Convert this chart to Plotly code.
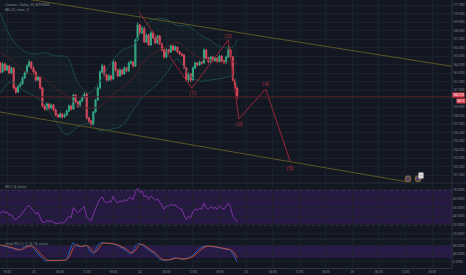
import plotly.graph_objects as go
import pandas as pd

# ---------------- data ----------------
start_time = "2018-01-22 16:30"
opens = [164.17,163.12,164.06,163.35,163.82,163.00,163.59,161.24,160.76,161.47,
 161.71,162.41,163.00,163.82,164.29,163.59,163.12,162.18,162.53,161.24,
 159.12,158.76,159.35,158.88,159.24,158.65,158.06,157.82,158.18,157.82,
 158.06,158.53,159.12,158.76,160.41,159.59,159.12,159.71,160.18,160.53,
 157.71,157.35,157.00,158.41,159.82,161.24,163.12,163.82,162.76,162.18,
 162.65,162.29,164.29,163.35,162.65,163.35,162.88,163.59,163.24,164.18,
 164.29,163.82,166.88,168.65,167.71,168.29,166.65,167.47,166.29,167.71,
 167.12,166.53,167.35,166.41,165.71,164.88,165.71,165.47,166.18,165.71,
 166.06,165.47,165.24,165.12,163.59,162.18,162.88,162.18,163.59,164.18,
 163.94,164.29,164.18,165.71,164.76,164.29,164.88,164.41,164.76,164.29,
 165.00,164.41,164.18,164.88,165.71,164.88,162.18,161.24]
highs = [164.30,164.25,164.20,164.00,163.95,163.75,163.70,161.40,161.60,161.95,
 162.60,163.20,164.00,164.55,164.40,163.75,163.25,162.75,162.65,161.35,
 159.30,159.55,159.45,159.40,159.35,158.80,158.20,158.35,158.30,158.25,
 158.70,159.30,159.25,160.55,160.50,159.70,159.85,160.35,160.75,160.65,
 157.85,157.50,158.55,159.95,161.40,163.30,164.10,163.95,162.90,162.85,
 162.80,164.55,164.40,163.50,163.55,163.45,163.80,163.70,164.35,164.50,
 164.40,167.05,168.95,168.80,168.50,168.40,167.65,167.60,167.90,167.85,
 167.25,167.50,167.45,166.55,165.85,165.90,165.85,166.35,166.30,166.25,
 166.15,165.60,165.35,165.20,163.70,163.05,163.00,163.75,164.35,164.30,
 164.45,164.40,165.90,165.80,164.90,165.05,165.00,164.90,164.85,165.15,
 165.10,164.55,165.05,166.20,165.80,165.00,162.30,161.35]
lows = [162.95,163.00,163.20,163.25,162.85,162.90,161.10,160.55,160.65,161.30,
 161.60,162.30,162.90,163.70,163.45,162.95,162.00,162.05,161.10,158.95,
 158.55,158.60,158.70,158.75,158.50,157.90,157.70,157.70,157.65,157.75,
 157.95,158.45,158.60,158.70,159.40,158.95,159.00,159.60,160.05,157.55,
 157.15,156.75,156.90,158.30,159.70,161.10,162.95,162.60,162.00,162.05,
 162.10,162.20,163.20,162.50,162.55,162.70,162.80,163.10,163.15,164.00,
 163.65,163.70,166.75,167.55,167.60,166.50,166.55,166.15,166.20,167.00,
 166.40,166.45,166.30,165.55,164.70,164.75,165.30,165.35,165.60,165.60,
 165.35,165.10,164.95,163.45,162.00,161.95,161.90,162.10,163.45,163.80,
 163.85,164.00,164.10,164.60,164.15,164.20,164.30,164.30,164.15,164.20,
 164.30,164.05,164.10,164.80,164.75,162.05,161.10,159.95]
closes = [163.12,164.06,163.35,163.82,163.00,163.59,161.24,160.76,161.47,161.71,
 162.41,163.00,163.82,164.29,163.59,163.12,162.18,162.53,161.24,159.12,
 158.76,159.35,158.88,159.24,158.65,158.06,157.82,158.18,157.82,158.06,
 158.53,159.12,158.76,160.41,159.59,159.12,159.71,160.18,160.53,157.71,
 157.35,157.00,158.41,159.82,161.24,163.12,163.82,162.76,162.18,162.65,
 162.29,164.29,163.35,162.65,163.35,162.88,163.59,163.24,164.18,164.29,
 163.82,166.88,168.65,167.71,168.29,166.65,167.47,166.29,167.71,167.12,
 166.53,167.35,166.41,165.71,164.88,165.71,165.47,166.18,165.71,166.06,
 165.47,165.24,165.12,163.59,162.18,162.88,162.18,163.59,164.18,163.94,
 164.29,164.18,165.71,164.76,164.29,164.88,164.41,164.76,164.29,165.00,
 164.41,164.18,164.88,165.71,164.88,162.18,161.24,160.21]

# Bollinger bands (20, close, 2), read at sampled candles
bb_index = [0,5,10,15,20,25,30,35,40,45,50,55,60,65,70,75,80,85,90,95,100,105,107]
bb_upper = [170.06,167.12,165.71,165.24,165.39,165.00,164.88,161.89,160.67,162.03,164.20,165.71,
            166.26,168.41,169.42,169.31,168.60,168.48,167.56,166.81,166.02,166.11,166.88]
bb_basis = [165.35,164.53,163.35,162.76,162.35,161.16,160.31,159.27,158.85,159.12,160.29,161.26,
            162.45,164.38,165.45,166.12,166.61,165.65,164.80,164.49,164.19,164.33,164.12]
bb_lower = [160.65,161.94,161.00,160.29,159.32,157.35,155.74,156.65,157.04,156.21,156.39,156.81,
            158.65,160.35,161.47,162.94,164.62,162.82,162.05,162.18,162.36,162.56,161.35]

rsi = [43,46,44,45,41,42,37,36,39,40,44,48,51,52,49,46,43,44,39,33,
       33,35,34,35,33,32,31,33,32,33,36,40,38,50,46,44,47,49,51,38,
       37,35,42,49,55,60,62,57,55,57,56,63,58,55,58,56,59,57,61,61,
       59,68,72,67,69,62,64,59,63,61,58,60,56,53,48,52,51,54,52,53,
       50,49,48,41,36,40,38,45,48,47,49,48,55,50,48,51,49,50,48,52,
       49,48,51,55,50,40,37,34]
stoch_k = [85,82,78,76,72,70,66,62,60,62,68,76,80,80,78,68,55,40,30,18,
           8,4,6,8,7,6,7,7,8,8,15,45,75,97,82,78,77,80,83,82,
           62,48,40,60,84,94,97,95,94,93,92,90,86,82,76,70,63,55,45,40,
           55,80,90,92,85,76,68,60,52,45,35,22,12,9,8,8,10,14,17,20,
           18,14,12,14,17,20,25,35,45,55,66,74,78,80,79,78,77,75,72,70,
           67,66,64,62,56,42,20,2]
stoch_d = [84,84,82,79,75,73,69,66,63,61,63,69,75,79,79,75,67,54,42,29,
           19,10,6,6,7,7,7,7,7,8,10,23,45,72,85,86,79,78,80,82,
           76,64,50,49,61,79,92,95,95,94,93,92,89,86,81,76,70,63,54,47,
           47,58,75,87,89,84,76,68,60,52,44,34,23,14,10,8,9,11,14,17,
           18,17,15,13,14,17,21,27,35,45,55,65,73,77,79,79,78,77,75,72,
           70,68,66,64,61,53,39,21]

channel_top_t = ["2018-01-22 18:00", "2018-01-27 00:00"]
channel_top_p = [172.07, 163.66]
channel_bot_t = ["2018-01-22 16:00", "2018-01-27 00:00"]
channel_bot_p = [158.45, 149.17]

wave_t = ["2018-01-23 23:53", "2018-01-24 11:43", "2018-01-24 19:59",
          "2018-01-24 22:22", "2018-01-25 04:26", "2018-01-25 09:56"]
wave_p = [170.14, 161.20, 166.88, 157.59, 161.12, 152.65]
wave_label_t = ["2018-01-24 11:57", "2018-01-24 19:59", "2018-01-24 22:28",
                "2018-01-25 04:26", "2018-01-25 09:56"]
wave_label_p = [160.61, 167.32, 156.92, 161.67, 151.79]
wave_labels = ["(1)", "(2)", "(3)", "(4)", "(5)"]

last_price = 160.21
last_price_text = "160.210"
countdown_text = "04:12"

event_t = ["2018-01-26 12:35", "2018-01-26 14:50"]
event_p = [150.55, 150.55]

price_ticks = list(range(151, 172))
# the 160 label is covered by the last-price tag, as in the reference
price_ticktext = ["" if v == 160 else "%d.000" % v for v in price_ticks]
rsi_ticks = [20, 30, 40, 50, 60, 70]
rsi_ticktext = ["20.0000", "30.0000", "40.0000", "50.0000", "60.0000", "70.0000"]
stoch_ticks = [0, 40, 80]
stoch_ticktext = ["0.0000", "40.0000", "80.0000"]
x_tick_vals = ["2018-01-22 18:00", "2018-01-23 00:00", "2018-01-23 06:00", "2018-01-23 12:00",
               "2018-01-23 18:00", "2018-01-24 00:00", "2018-01-24 06:00", "2018-01-24 12:00",
               "2018-01-24 18:00", "2018-01-25 00:00", "2018-01-25 06:00", "2018-01-25 12:00",
               "2018-01-25 18:00", "2018-01-26 00:00", "2018-01-26 06:00", "2018-01-26 12:00",
               "2018-01-26 18:00"]
x_tick_text = ["18:00", "23", "06:00", "12:00", "18:00", "24", "06:00", "12:00", "18:00",
               "25", "06:00", "12:00", "18:00", "26", "06:00", "12:00", "18:00"]

# ---------------- figure ----------------
times = pd.date_range(start_time, periods=len(closes), freq="30min")
bb_times = [times[i] for i in bb_index]

BG = "#131722"
GRID = "#1b202d"
TXT = "#7f838e"
FONT = "Roboto"

fig = go.Figure()

# Bollinger fill + lines
fig.add_trace(go.Scatter(x=bb_times, y=bb_lower, mode="lines", line=dict(color="#1b4a4a", width=1, shape="spline"),
                         hoverinfo="skip", showlegend=False))
fig.add_trace(go.Scatter(x=bb_times, y=bb_upper, mode="lines", line=dict(color="#1b4a4a", width=1, shape="spline"),
                         fill="tonexty", fillcolor="rgba(38,150,140,0.045)", hoverinfo="skip", showlegend=False))
fig.add_trace(go.Scatter(x=bb_times, y=bb_basis, mode="lines", line=dict(color="#4c2228", width=1, shape="spline"),
                         hoverinfo="skip", showlegend=False))

# channel lines
fig.add_trace(go.Scatter(x=channel_top_t, y=channel_top_p, mode="lines", line=dict(color="#5a5822", width=1),
                         hoverinfo="skip", showlegend=False))
fig.add_trace(go.Scatter(x=channel_bot_t, y=channel_bot_p, mode="lines", line=dict(color="#5a5822", width=1),
                         hoverinfo="skip", showlegend=False))

# candles
fig.add_trace(go.Candlestick(x=times, open=opens, high=highs, low=lows, close=closes,
                             increasing=dict(line=dict(color="#36a884", width=1), fillcolor="#36a884"),
                             decreasing=dict(line=dict(color="#e0465a", width=1), fillcolor="#e0465a"),
                             whiskerwidth=0, showlegend=False, hoverinfo="skip"))

# Elliott wave
fig.add_trace(go.Scatter(x=wave_t, y=wave_p, mode="lines", line=dict(color="#9a2435", width=1),
                         hoverinfo="skip", showlegend=False))
fig.add_trace(go.Scatter(x=wave_label_t, y=wave_label_p, mode="text", text=wave_labels,
                         textfont=dict(color="#ad2e3d", size=5.5, family=FONT),
                         hoverinfo="skip", showlegend=False))

# event flags
fig.add_trace(go.Scatter(x=event_t, y=event_p, mode="markers",
                         marker=dict(size=6, color="#4d4560", line=dict(color="#8f6d35", width=1)),
                         hoverinfo="skip", showlegend=False))

# RSI
fig.add_trace(go.Scatter(x=times, y=rsi, mode="lines", line=dict(color="#7e36a4", width=1),
                         xaxis="x", yaxis="y2", hoverinfo="skip", showlegend=False))
# Stoch RSI
fig.add_trace(go.Scatter(x=times, y=stoch_k, mode="lines", line=dict(color="#2a63bd", width=1, shape="spline"),
                         xaxis="x", yaxis="y3", hoverinfo="skip", showlegend=False))
fig.add_trace(go.Scatter(x=times, y=stoch_d, mode="lines", line=dict(color="#c44f2e", width=1, shape="spline"),
                         xaxis="x", yaxis="y3", hoverinfo="skip", showlegend=False))

# geometry of panels (plot area 0..268 px high)
H = 268.0
def py(px):
    return (H - px) / H

shapes = []
# RSI band
shapes.append(dict(type="rect", xref="paper", yref="y2", x0=0, x1=1, y0=30, y1=70,
                   fillcolor="#261942", line=dict(width=0), layer="below"))
for lv in (30, 70):
    shapes.append(dict(type="line", xref="paper", yref="y2", x0=0, x1=1, y0=lv, y1=lv,
                       line=dict(color="#4f4b62", width=1, dash="dot"), layer="below"))
# Stoch band
shapes.append(dict(type="rect", xref="paper", yref="y3", x0=0, x1=1, y0=20, y1=80,
                   fillcolor="#2a1a4a", line=dict(width=0), layer="below"))
# last price line
shapes.append(dict(type="line", xref="paper", yref="y", x0=0, x1=1, y0=last_price, y1=last_price,
                   line=dict(color="#571f2b", width=1), layer="above"))
# panel separators
for sep in (183.0, 239.0):
    shapes.append(dict(type="line", xref="paper", yref="paper", x0=0, x1=466/452, y0=py(sep), y1=py(sep),
                       line=dict(color="#2a2e3a", width=1)))
# right axis border
shapes.append(dict(type="line", xref="paper", yref="paper", x0=1, x1=1, y0=0, y1=1,
                   line=dict(color="#2f3340", width=1)))

annotations = [
    dict(text="Litecoin / Dollar, 30, BITFINEX", xref="paper", yref="paper", x=0.006, y=py(5),
         xanchor="left", yanchor="middle", showarrow=False, font=dict(size=3.4, color=TXT, family=FONT)),
    dict(text="BB (20, close, 2)", xref="paper", yref="paper", x=0.006, y=py(9.6),
         xanchor="left", yanchor="middle", showarrow=False, font=dict(size=3.4, color=TXT, family=FONT)),
    dict(text="RSI (14, close)", xref="paper", yref="paper", x=0.006, y=py(187.3),
         xanchor="left", yanchor="middle", showarrow=False, font=dict(size=3.4, color=TXT, family=FONT)),
    dict(text="Stoch RSI (3, 3, 14, 14, close)", xref="paper", yref="paper", x=0.006, y=py(243.7),
         xanchor="left", yanchor="middle", showarrow=False, font=dict(size=3.4, color=TXT, family=FONT)),
    dict(text=last_price_text, xref="paper", yref="y", x=1.0, y=last_price, yshift=1.5, xanchor="left",
         yanchor="middle", showarrow=False, bgcolor="#e0404f", borderpad=0,
         font=dict(size=3.0, color="#ffffff", family=FONT)),
    dict(text=countdown_text, xref="paper", yref="y", x=1.0 + 4/452, y=last_price, yshift=-4.2,
         xanchor="left", yanchor="middle", showarrow=False, bgcolor="#e0404f", borderpad=0,
         font=dict(size=3.0, color="#ffffff", family=FONT)),
    dict(text="2", xref="x", yref="y", x=event_t[1], y=event_p[1], xshift=3, yshift=3, showarrow=False,
         bgcolor="#dddddd", font=dict(size=2.5, color="#333333", family=FONT)),
]

axis_common = dict(side="right", showgrid=True, gridcolor=GRID, gridwidth=1, zeroline=False,
                   showline=False, ticks="", tickfont=dict(size=3.2, color=TXT, family=FONT),
                   fixedrange=True, anchor="x")

fig.update_layout(
    width=466, height=275,
    margin=dict(l=0, r=14, t=0, b=7),
    paper_bgcolor=BG, plot_bgcolor=BG,
    showlegend=False,
    font=dict(family=FONT, color=TXT, size=3.2),
    xaxis=dict(type="date", range=["2018-01-22 16:25", "2018-01-26 22:31"],
               tickvals=x_tick_vals, ticktext=x_tick_text, tickangle=0,
               showgrid=True, gridcolor=GRID, gridwidth=1, zeroline=False,
               showline=True, linecolor="#2f3340", linewidth=1, ticks="",
               tickfont=dict(size=3.2, color=TXT, family=FONT), anchor="y3",
               rangeslider=dict(visible=False), fixedrange=True),
    yaxis=dict(domain=[py(182.5), 1.0], range=[150.12, 171.588],
               tickvals=price_ticks, ticktext=price_ticktext, **axis_common),
    yaxis2=dict(domain=[py(238.5), py(183.5)], range=[14.5, 77.4],
                tickvals=rsi_ticks, ticktext=rsi_ticktext, **axis_common),
    yaxis3=dict(domain=[0, py(239.5)], range=[-32, 113],
                tickvals=stoch_ticks, ticktext=stoch_ticktext, **axis_common),
    shapes=shapes,
    annotations=annotations,
)

fig.write_html("out.html", config={"displayModeBar": False, "staticPlot": True})
